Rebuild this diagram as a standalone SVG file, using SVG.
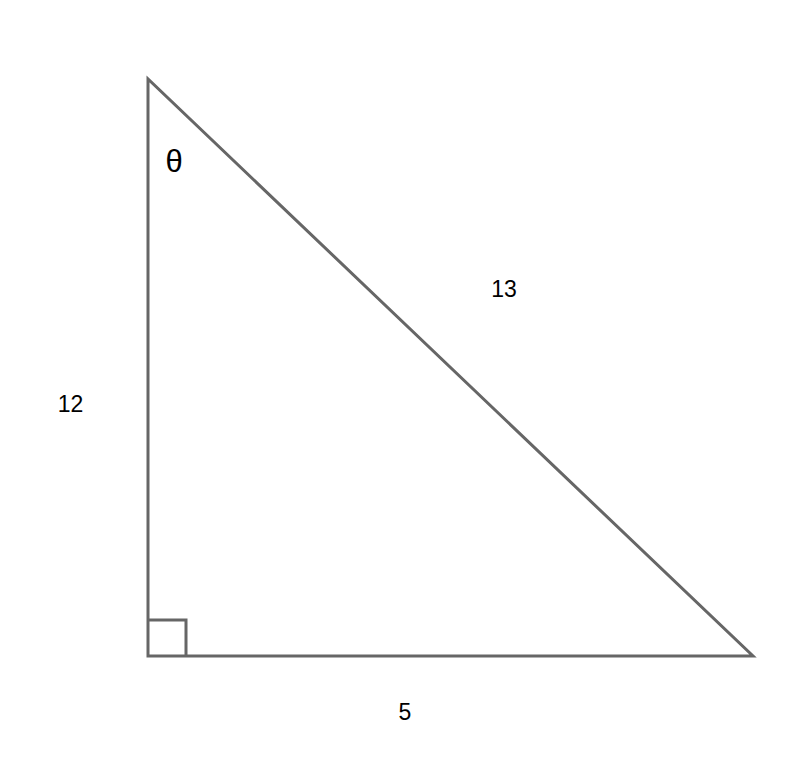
<svg xmlns="http://www.w3.org/2000/svg" width="808" height="782" viewBox="0 0 808 782">
<style>
.edge{fill:none;stroke:#666666;stroke-width:3;stroke-linejoin:miter;stroke-linecap:butt}
.lbl{font-family:"Liberation Sans",Arial,sans-serif;font-size:23px;fill:#000000;text-anchor:middle}
</style>
<rect width="808" height="782" fill="#ffffff"/>
<g id="triangle">
<path class="edge" d="M148,79 L148,656 L753,656 Z"/>
</g>
<g id="right-angle">
<path class="edge" d="M148,620 L186,620 L186,656"/>
</g>
<g id="labels">
<text class="lbl" x="174" y="172" style="font-size:31px">θ</text>
<text class="lbl" x="504" y="297">13</text>
<text class="lbl" x="70.5" y="412">12</text>
<text class="lbl" x="405" y="720">5</text>
</g>
</svg>
